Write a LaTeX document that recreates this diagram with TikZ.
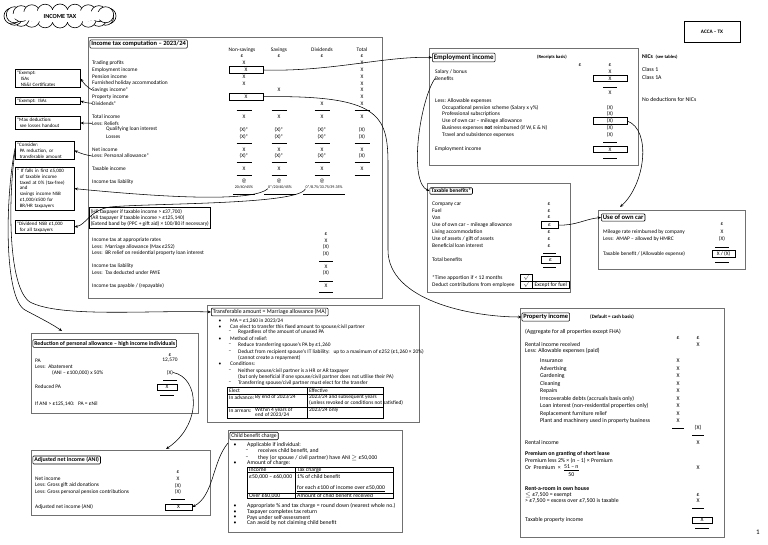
\documentclass[tikz,border=0pt]{standalone}
\usepackage{fontspec}
\setmainfont{Carlito}
\usetikzlibrary{arrows.meta, positioning, calc}
\definecolor{framegray}{HTML}{707070}

\begin{document}
\begin{tikzpicture}[x=1pt, y=-1pt, >={Stealth[length=3.4pt, width=2.8pt]},
  font=\fontsize{5.4}{6.4}\selectfont,
  panel/.style={draw=framegray, line width=0.7pt},
  titlebox/.style={draw, line width=0.6pt, rounded corners=1pt, inner xsep=1.5pt, inner ysep=1.3pt, anchor=west},
  lbl/.style={anchor=west, inner sep=0pt},
  val/.style={inner sep=0pt},
  xbox/.style={draw, line width=0.5pt, minimum width=#1, minimum height=6.5pt, inner sep=0pt},
  xbox/.default=34pt,
  note/.style={draw, line width=0.5pt, anchor=north west, align=left, inner sep=1.5pt, font=\fontsize{5}{5.9}\selectfont},
  rule/.style={line width=0.45pt},
  link/.style={->, line width=0.55pt}]

  \useasboundingbox (0,0) rectangle (768,545);
  \fill[white] (0,0) rectangle (768,545);

  % Title cloud (puffs, inside cleared) and course box
  \foreach \a in {0,18,...,342}
    \draw[line width=0.6pt, fill=white] ({60+48*cos(\a)},{16+4*sin(\a)}) circle (8pt);
  \fill[white] (60,16) ellipse [x radius=50pt, y radius=6pt];
  \node[inner sep=0pt, font=\bfseries\fontsize{6.2}{7}\selectfont] (cloud) at (60,16) {INCOME TAX};
  \node[draw, line width=0.5pt, minimum width=56pt, minimum height=21pt,
        font=\bfseries\fontsize{5.2}{6}\selectfont] (acca) at (712,31.5) {ACCA -- TX};

  % Notes on the left
  \node[note, text width=62pt] (exa) at (15,69) {*Exempt:\\\hspace*{4pt}ISAs\\\hspace*{4pt}NS\&I Certificates};
  \node[note, text width=62pt] (exb) at (15,97) {*Exempt: ISAs};
  \node[note, text width=62pt] (maxd) at (15,116.5) {*Max deduction:\\\hspace*{3pt}see losses handout};
  \node[note, text width=56pt] (cons) at (15,141) {*Consider:\\\hspace*{3pt}PA reduction, or\\\hspace*{3pt}transferable amount};
  \node[note, text width=56pt] (iff) at (15,167) {* If falls in first £5,000\\\hspace*{3pt}of taxable income\\\hspace*{3pt}taxed at 0\% (tax-free)\\\hspace*{3pt}and\\\hspace*{3pt}savings income NSB\\\hspace*{3pt}£1,000/£500 for\\\hspace*{3pt}BR/HR taxpayers};
  \node[note, text width=56pt] (dnsb) at (15,220) {*Dividend NSB £1,000\\\hspace*{3pt}for all taxpayers};

  % Income tax computation
  \draw[panel] (88,37) rectangle (382,298);
  \node[titlebox, font=\bfseries\fontsize{6.5}{7.5}\selectfont] (itc) at (89.5,44) {Income tax computation -- 2023/24};
  \foreach \x/\h [count=\i] in {242/Non-savings, 279/Savings, 322/Dividends, 362/Total} {
    \node[val] (hd\i) at (\x,50) {\h};
    \node[val] (pd\i) at (\x,56) {£};
  }
  \foreach \t/\y [count=\i] in {Trading profits/63, Employment income/70, Pension income/76.7,
      Furnished holiday accommodation/83.3, Savings income*/90, Property income/96.7, Dividends*/103.3,
      Total income/116.7, Less: Reliefs/123.3, Net income/149.3, Less: Personal allowance*/156,
      Taxable income/168.7, Income tax liability/181.7}
    \node[lbl] (itl\i) at (92,\y) {\t};
  \node[lbl] (qli) at (106,129.5) {Qualifying loan interest};
  \node[lbl] (loss) at (106,136.5) {Losses};

  \foreach \y [count=\i] in {63,76.7,83.3} \node[val] (ns\i) at (244,\y) {X};
  \node[val, xbox] (empx) at (246,70) {X};
  \node[val, xbox] (propx) at (246,96.7) {X};
  \node[val] (savx) at (279,90) {X};
  \node[val] (divx) at (322,103.3) {X};
  \foreach \y [count=\i] in {63,70,76.7,83.3,90,96.7,103.3} \node[val] (tot\i) at (362,\y) {X};
  \foreach \x [count=\c] in {244,279,322} {
    \node[val] (ti\c) at (\x,116.7) {X};
    \node[val] (ql\c) at (\x,129.5) {(X)*};
    \node[val] (ls\c) at (\x,136.5) {(X)*};
    \node[val] (ni\c) at (\x,149.3) {X};
    \node[val] (pa\c) at (\x,156) {(X)*};
    \node[val] (tx\c) at (\x,168.7) {X};
    \node[val] (at\c) at (\x,181.3) {@};
  }
  \foreach \t/\y [count=\i] in {X/116.7, (X)/129.5, (X)/136.5, X/149.3, (X)/156, X/168.7}
    \node[val] (tc\i) at (362,\y) {\t};
  \node[val, font=\fontsize{4}{4.5}\selectfont] (rt1) at (244,187) {20/40/45\%};
  \node[val, font=\fontsize{4}{4.5}\selectfont] (rt2) at (280,187) {0*/20/40/45\%};
  \node[val, font=\fontsize{4}{4.5}\selectfont] (rt3) at (324,187) {0*/8.75/33.75/39.35\%};
  \foreach \y in {110,143,162,175} \foreach \x in {244,279,322,362}
    \draw[rule] (\x-7.5,\y) -- (\x+7.5,\y);
  \foreach \x/\w in {244/11,280/16,324/21} \draw[rule] (\x-\w,194) -- (\x+\w,194);

  \node[draw, line width=0.5pt, anchor=north west, align=left, inner sep=1.5pt] (bands) at (89,207.5)
    {(HR taxpayer if taxable income > £37,700)\\(AR taxpayer if taxable income > £125,140)\\(Extend band by (PPC + gift aid) × 100/80 if necessary)};
  \node[val] (pb) at (326,234) {£};
  \node[lbl] (arr) at (92,240.5) {Income tax at appropriate rates};
  \node[val] (arrx) at (326,240.5) {X};
  \node[lbl] (mal) at (92,247) {Less:\ \ Marriage allowance (Max £252)};
  \node[val] (malx) at (326,247) {(X)};
  \node[lbl] (brr) at (92,253.5) {Less:\ \ BR relief on residential property loan interest};
  \node[val] (brrx) at (326,253.5) {(X)};
  \draw[rule] (319,261) -- (333,261);
  \node[lbl] (itlb) at (92,266.5) {Income tax liability};
  \node[val] (itlbx) at (326,266.5) {X};
  \node[lbl] (paye) at (92,273) {Less:\ \ Tax deducted under PAYE};
  \node[val] (payex) at (326,273) {(X)};
  \draw[rule] (319,281) -- (333,281);
  \node[lbl] (itp) at (92,286) {Income tax payable / (repayable)};
  \node[val] (itpx) at (326,286) {X};
  \draw[rule] (319,292) -- (333,292);

  % Employment income
  \draw[panel] (429,48) rectangle (638,165);
  \node[titlebox, font=\bfseries\fontsize{7}{8}\selectfont] (emp) at (432,57.5) {Employment income};
  \node[lbl, font=\bfseries\fontsize{4.6}{5}\selectfont] (rcpt) at (537,57) {(Receipts basis)};
  \begin{scope}[font=\fontsize{5.5}{6.5}\selectfont]
    \node[val] (el1) at (580,65) {£};
    \node[val] (el2) at (610,65) {£};
    \node[lbl] (sal) at (435,72) {Salary / bonus};
    \node[val] (salx) at (610,72) {X};
    \node[lbl] (ben) at (435,78.5) {Benefits};
    \node[val, xbox] (benx) at (610,78.5) {X};
    \draw[rule] (603,87) -- (617,87);
    \node[val] (gross) at (610,93) {X};
    \node[lbl] (elae) at (435,101) {Less: Allowable expenses};
    \node[lbl] (ops) at (442,107.5) {Occupational pension scheme (Salary x y\%)};
    \node[lbl] (psub) at (442,114) {Professional subscriptions};
    \node[lbl] (ucar) at (442,121) {Use of own car -- mileage allowance};
    \node[lbl] (bexp) at (442,128) {Business expenses \textbf{not} reimbursed (if W, E \& N)};
    \node[lbl] (trav) at (442,135) {Travel and subsistence expenses};
    \foreach \y [count=\i] in {107.5,114,128,135} \node[val] (eex\i) at (610,\y) {(X)};
    \node[val, xbox] (ucx) at (610,121) {(X)};
    \draw[rule] (603,142) -- (617,142);
    \node[lbl] (eit) at (435,149.5) {Employment income};
    \node[val, xbox] (eitx) at (610,149.5) {X};
    \draw[rule] (603,158) -- (617,158);
  \end{scope}

  % NICs
  \node[lbl, font=\bfseries\fontsize{5.8}{6.5}\selectfont] (nic) at (642,57) {NICs\ \ {\fontsize{4.6}{5}\selectfont(see tables)}};
  \node[lbl, font=\fontsize{5.8}{6.5}\selectfont] (cl1) at (642,70) {Class 1};
  \node[lbl, font=\fontsize{5.8}{6.5}\selectfont] (cl1a) at (642,77.5) {Class 1A};
  \node[lbl, font=\fontsize{5.8}{6.5}\selectfont] (nded) at (642,100) {No deductions for NICs};

  % Taxable benefits
  \draw[panel] (427,183) rectangle (570,292);
  \node[titlebox, font=\bfseries\fontsize{5.5}{6.5}\selectfont] (tb) at (429.5,191) {Taxable benefits*};
  \begin{scope}[font=\fontsize{5.5}{6.4}\selectfont]
    \foreach \t/\y [count=\i] in {Company car/204, Fuel/211, Van/217.5, Living accommodation/232,
        Beneficial loan interest/246}
      \node[lbl] (tbl\i) at (432,\y) {\t};
    \node[lbl] (tbuc) at (432,225) {Use of own car -- mileage allowance};
    \node[lbl] (tbua) at (432,239) {Use of assets / gift of assets};
    \foreach \y [count=\i] in {204,211,217.5,232,239,246} \node[val] (tbv\i) at (549,\y) {£};
    \node[val, xbox=17pt] (tbc) at (549.5,225) {£};
    \draw[rule] (543,253) -- (556,253);
    \node[lbl] (tbt) at (432,260) {Total benefits};
    \node[val, xbox=19pt] (tbtx) at (550.5,260) {£};
    \draw[rule] (543,267) -- (556,267);
    \node[lbl] (tapp) at (432,278) {*Time apportion if < 12 months};
    \node[val, xbox=12pt] (tck1) at (526,278) {$\surd$};
    \node[lbl] (dce) at (432,285) {Deduct contributions from employee};
    \node[val, xbox=12pt] (tck2) at (526,285) {$\surd$};
    \node[val, xbox=37pt, anchor=west] (xfuel) at (532,285) {Except for fuel};
  \end{scope}

  % Use of own car
  \draw[panel] (598,210) rectangle (745,269);
  \node[titlebox, font=\bfseries\fontsize{6.6}{7.5}\selectfont] (uoc) at (601,217.5) {Use of own car};
  \node[val] (uocp) at (722,224.5) {£};
  \node[lbl] (mrr) at (603,232) {Mileage rate reimbursed by company};
  \node[val] (mrrx) at (722,232) {X};
  \node[lbl] (amap) at (603,239) {Less:\ \ AMAP -- allowed by HMRC};
  \node[val] (amapx) at (722,239) {(X)};
  \draw[rule] (715,247) -- (729,247);
  \node[lbl] (tbae) at (603,254) {Taxable benefit / (Allowable expense)};
  \node[val, xbox=23pt] (tbaex) at (723.5,254) {X / (X)};
  \draw[rule] (715,262) -- (729,262);

  % Property income
  \draw[panel] (520,308) rectangle (724,537);
  \node[titlebox, font=\bfseries\fontsize{6.5}{7.5}\selectfont] (prop) at (521.5,317) {Property income};
  \node[lbl, font=\bfseries\fontsize{5}{5.5}\selectfont] (cash) at (590,317) {(Default = cash basis)};
  \begin{scope}[font=\fontsize{5.8}{6.6}\selectfont]
    \node[lbl] (agg) at (525,332) {(Aggregate for all properties except FHA)};
    \node[val] (pl1) at (678,338) {£};
    \node[val] (pl2) at (698,338) {£};
    \node[lbl] (rir) at (525,344.5) {Rental income received};
    \node[val] (rirx) at (698,344.5) {X};
    \node[lbl] (plae) at (525,351) {Less: Allowable expenses (paid)};
    \foreach \t/\y [count=\i] in {Insurance/361, Advertising/368.5, Gardening/376, Cleaning/383.5, Repairs/391,
        Irrecoverable debts (accruals basis only)/398.5, Loan interest (non-residential properties only)/406,
        Replacement furniture relief/413.5, Plant and machinery used in property business/421} {
      \node[lbl] (pexp\i) at (540,\y) {\t};
      \node[val] (pexx\i) at (678,\y) {X};
    }
    \draw[rule] (672,428) -- (684,428);
    \node[val] (pexs) at (698,428) {(X)};
    \draw[rule] (692,435) -- (704,435);
    \node[lbl] (rinc) at (525,443) {Rental income};
    \node[val] (rincx) at (698,443) {X};
    \node[lbl, font=\bfseries\fontsize{5.8}{6.6}\selectfont] (prem) at (525,454) {Premium on granting of short lease};
    \node[lbl] (prem1) at (525,461) {Premium less 2\% × (n -- 1) × Premium};
    \node[lbl] (prem2) at (525,468) {Or\ \ Premium\ \ ×};
    \node[lbl, right=3pt of prem2] (fnum) {\underline{51 -- n}};
    \node[val, below=1.8pt of fnum] (fden) {50};
    \node[val] (premx) at (698,468) {X};
    \node[lbl, font=\bfseries\fontsize{5.8}{6.6}\selectfont] (rar) at (525,488) {Rent-a-room in own house};
    \node[lbl] (rar1) at (525,494.5) {$\leq$ £7,500 = exempt};
    \node[val] (rar1x) at (698,494.5) {£};
    \node[lbl] (rar2) at (525,501) {> £7,500 = excess over £7,500 is taxable};
    \node[val] (rar2x) at (698,501) {X};
    \draw[rule] (692,508) -- (704,508);
    \node[lbl] (tpi) at (525,520) {Taxable property income};
    \node[val, xbox=20pt] (tpix) at (702,520) {X};
    \draw[rule] (695,528) -- (709,528);
  \end{scope}
  \node[font=\fontsize{7}{8}\selectfont] (pgno) at (758,532) {1};

  % Transferable amount
  \draw[panel] (207,305) rectangle (419,422);
  \node[titlebox, font=\fontsize{5.8}{6.5}\selectfont] (tma) at (211,312) {Transferable amount = Marriage allowance (MA)};
  \foreach \y [count=\i] in {321,327,339,364} \node[val] (tbu\i) at (220,\y) {\textbullet};
  \foreach \y [count=\i] in {332,345,352,371,383} \node[val] (tda\i) at (230,\y) {--};
  \node[lbl] (tm1) at (230,321) {MA = £1,260 in 2023/24};
  \node[lbl] (tm2) at (230,327) {Can elect to transfer this fixed amount to spouse/civil partner};
  \node[lbl] (tm3) at (238,332) {Regardless of the amount of unused PA};
  \node[lbl] (tm4) at (230,339) {Method of relief:};
  \node[lbl] (tm5) at (238,345) {Reduce transferring spouse's PA by £1,260};
  \node[lbl] (tm6) at (238,352) {Deduct from recipient spouse's IT liability:\ \ \ up to a maximum of £252 (£1,260 × 20\%)};
  \node[lbl] (tm7) at (238,357.5) {(cannot create a repayment)};
  \node[lbl] (tm8) at (230,364) {Conditions:};
  \node[lbl] (tm9) at (238,371) {Neither spouse/civil partner is a HR or AR taxpayer};
  \node[lbl] (tm10) at (238,377) {(but only beneficial if one spouse/civil partner does not utilise their PA)};
  \node[lbl] (tm11) at (238,383) {Transferring spouse/civil partner must elect for the transfer};
  \draw[line width=0.4pt] (227,387) rectangle (383,418) (227,394) -- (383,394) (227,407) -- (383,407) (307,387) -- (307,418);
  \node[lbl] (el) at (229,390.5) {Elect};
  \node[lbl] (ef) at (309,390.5) {Effective};
  \node[lbl] (adv) at (229,397.5) {In advance:};
  \node[lbl] (advb) at (255,397.5) {By end of 2023/24};
  \node[lbl] (adve) at (309,397.5) {2023/24 and subsequent years};
  \node[lbl] (adve2) at (309,403) {(unless revoked or conditions not satisfied)};
  \node[lbl] (arr2) at (229,410.5) {In arrears:};
  \node[lbl] (arrb) at (255,410.5) {Within 4 years of};
  \node[lbl] (arrb2) at (255,415) {end of 2023/24};
  \node[lbl] (arre) at (309,410.5) {2023/24 only};

  % Reduction of personal allowance
  \draw[panel] (31,333) rectangle (198,413);
  \node[titlebox, font=\bfseries\fontsize{5.8}{6.5}\selectfont] (red) at (32.5,343.5) {Reduction of personal allowance -- high income individuals};
  \node[val] (rp) at (170,355) {£};
  \node[lbl] (rpa) at (35,360.5) {PA};
  \node[val] (rpax) at (170,360.5) {12,570};
  \node[lbl] (rab) at (35,366.5) {Less:\ \ Abatement};
  \node[lbl] (rab2) at (52,372.5) {(ANI -- £100,000) x 50\%};
  \node[val] (redx) at (170,372.5) {(X)};
  \draw[rule] (163,380) -- (177,380);
  \node[lbl] (rpa2) at (35,387) {Reduced PA};
  \node[val, xbox=20pt] (rpa2x) at (167,387) {X};
  \draw[rule] (160,395) -- (174,395);
  \node[lbl] (rnil) at (35,404) {If ANI > £125,140:\ \ \ PA = £Nil};

  % Adjusted net income
  \draw[panel] (31,450) rectangle (210,515);
  \node[titlebox, font=\bfseries\fontsize{5.9}{6.5}\selectfont] (ani) at (32.5,460) {Adjusted net income (ANI)};
  \node[val] (ap) at (178,472) {£};
  \node[lbl] (ani1) at (35,479) {Net income};
  \node[val] (ani1x) at (178,479) {X};
  \node[lbl] (ani2) at (35,485.5) {Less: Gross gift aid donations};
  \node[val] (ani2x) at (178,485.5) {(X)};
  \node[lbl] (ani3) at (35,492) {Less: Gross personal pension contributions};
  \node[val] (ani3x) at (178,492) {(X)};
  \draw[rule] (171,499) -- (185,499);
  \node[lbl] (ani4) at (35,507) {Adjusted net income (ANI)};
  \node[val, xbox=27pt] (anix) at (178.5,507) {X};

  % Child benefit charge
  \draw[panel] (228,430) rectangle (402,532);
  \node[titlebox, font=\fontsize{5.6}{6.5}\selectfont] (cbc) at (229.5,436) {Child benefit charge};
  \begin{scope}[font=\fontsize{5.7}{6.4}\selectfont]
    \foreach \y [count=\i] in {445,463,506,512,517.5,523} \node[val] (cbu\i) at (235,\y) {\textbullet};
    \foreach \y [count=\i] in {450.5,457.5} \node[val] (cbd\i) at (247,\y) {--};
    \node[lbl] (cb1) at (247,445) {Applicable if individual:};
    \node[lbl] (cb2) at (258,450.5) {receives child benefit, and};
    \node[lbl] (cb3) at (258,457.5) {they (or spouse / civil partner) have ANI $\geq$ £50,000};
    \node[lbl] (cb4) at (247,463) {Amount of charge:};
    \draw[line width=0.4pt] (247,467) rectangle (393,498) (247,472.5) -- (393,472.5) (247,493) -- (393,493) (295,467) -- (295,498);
    \node[lbl] (cbi) at (249,469.8) {Income};
    \node[lbl] (cbt) at (297,469.8) {Tax charge};
    \node[lbl] (cbr1) at (249,477) {£50,000 -- £60,000};
    \node[lbl] (cbr1a) at (297,477) {1\% of child benefit};
    \node[lbl] (cbr1b) at (297,488.5) {\underline{for each £100 of income over £50,000}};
    \node[lbl] (cbr2) at (249,495.7) {Over £60,000};
    \node[lbl] (cbr2a) at (297,495.7) {Amount of child benefit received};
    \node[lbl] (cb5) at (247,506) {Appropriate \% and tax charge = round down (nearest whole no.)};
    \node[lbl] (cb6) at (247,512) {Taxpayer completes tax return};
    \node[lbl] (cb7) at (247,517.5) {Pays under self-assessment};
    \node[lbl] (cb8) at (247,523) {Can avoid by not claiming child benefit};
  \end{scope}

  % Connectors
  \coordinate (uoctop) at (620,207);
  \coordinate (redtop) at (62,331);
  \coordinate (anitop) at (166,449);
  \coordinate (cbstart) at (228,443);
  \draw[link] (empx.east) .. controls (330,72) and (385,56) .. (emp.west);
  \draw[link] (propx.east) .. controls (380,95) and (388,115) .. (388,165) -- (388,250)
              .. controls (388,300) and (470,317) .. (prop.west);
  \draw[link] (ben.west) .. controls (420,100) and (408,182) .. (tb.west);
  \draw[link] (ucx.east) .. controls (652,130) and (645,185) .. (uoctop);
  \draw[link] (tbc.east) .. controls (575,226) and (585,219) .. (uoc.west);
  \draw[link] (itl5.west) to[bend left=12] (exa.east);
  \draw[link] (itl7.west) to[bend left=8] (exb.east);
  \draw[link] (itl9.west) -- (maxd.east);
  \draw[link] (itl11.west) to[bend left=8] (cons.east);
  \draw[link] (rt2.south west) .. controls (255,200) and (190,200) .. (iff.east);
  \draw[link] (rt3.south west) .. controls (300,205) and (150,203) .. (110,207)
              .. controls (90,210) and (86,225) .. (dnsb.east);
  \draw[link] ([yshift=-1pt]cons.west) .. controls (8,200) and (8,288) .. (30,302)
              .. controls (60,318) and (150,310) .. (tma.west);
  \draw[link] ([yshift=2pt]cons.west) .. controls (5,200) and (4,298) .. (25,310)
              .. controls (40,318) and (52,324) .. (redtop);
  \draw[link] (redx.east) .. controls (200,378) and (202,425) .. (anitop);
  \draw[link] (cbstart) .. controls (212,462) and (214,496) .. (anix.east);
\end{tikzpicture}
\end{document}
